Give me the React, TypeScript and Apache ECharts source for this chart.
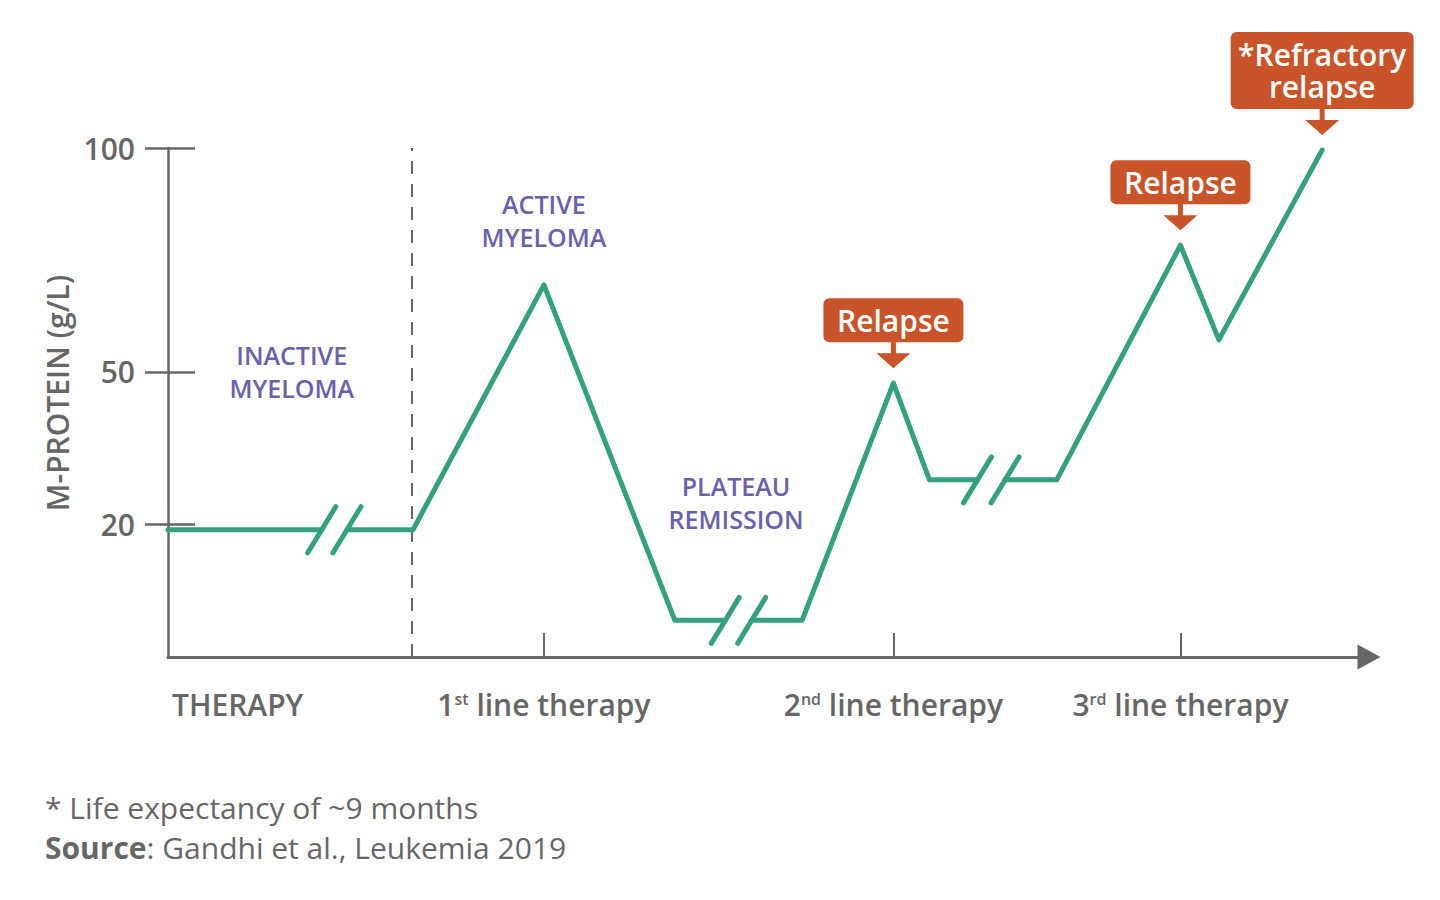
import { useEffect, useRef } from 'react';
import * as echarts from 'echarts';

// ---- data (schematic units: x = time 0..100, y = display height 0..100) ----
const pathX = [0, 12.8, 14.9, 20.4, 31.3, 42.2, 46.4, 48.6, 52.8, 60.4, 63.4, 67.4, 69.7, 74.0, 84.3, 87.5, 96.1];
const pathY = [25, 25, 25, 25, 73.1, 7.2, 7.2, 7.2, 7.2, 53.8, 34.8, 34.8, 34.8, 34.8, 80.9, 62.3, 99.6];
const gapAfter = [1, 6, 11];

const yTickValues = [26.1, 56.0, 100];
const yTickLabels = ['20', '50', '100'];

const xTickValues = [31.3, 60.4, 84.3];
const xLabelValues = [5.8, 31.3, 60.4, 84.3];
const xLabelTexts = [
  '{n|THERAPY}',
  '{n|1}{sup|st}{n| line therapy}',
  '{n|2}{sup|nd}{n| line therapy}',
  '{n|3}{sup|rd}{n| line therapy}',
];

const dividerX = 20.3;

const regionX = [10.3, 31.3, 47.3];
const regionY = [56.0, 85.7, 30.3];
const regionText = ['INACTIVE\nMYELOMA', 'ACTIVE\nMYELOMA', 'PLATEAU\nREMISSION'];

const annoX = [60.4, 84.3, 96.1];
const annoY = [53.8, 80.9, 99.6];
const annoText = ['Relapse', 'Relapse', '*Refractory\nrelapse'];

const footLine1 = '* Life expectancy of ~9 months';
const footLine2Bold = 'Source';
const footLine2Rest = ': Gandhi et al., Leukemia 2019';
const yAxisTitle = 'M-PROTEIN (g/L)';

// ---- styles ----
const TEAL = '#33a07f';
const ORANGE = '#c9542a';
const PURPLE = '#6a60ae';
const GRAY = '#666666';
const FONT = '"Open Sans", "Noto Sans", sans-serif';
const annoBoxW = [140, 140, 183];
const annoBoxH = [44, 44, 77];

export default function App() {
  const ref = useRef<HTMLDivElement>(null);

  useEffect(() => {
    document.body.style.margin = '0';
    const chart = echarts.init(ref.current!, null, { renderer: 'svg' });

    // split path into segments at the axis breaks
    const segments: number[][][] = [];
    let cur: number[][] = [];
    pathX.forEach((x, i) => {
      cur.push([x, pathY[i]]);
      if (gapAfter.includes(i)) {
        segments.push(cur);
        cur = [];
      }
    });
    segments.push(cur);

    const slashPts: number[][] = [];
    gapAfter.forEach((i) => {
      slashPts.push([pathX[i], pathY[i]]);
      slashPts.push([pathX[i + 1], pathY[i + 1]]);
    });

    const lineSeries: any[] = segments.map((seg, k) => ({
      type: 'line',
      data: seg,
      symbol: 'none',
      silent: true,
      lineStyle: { color: TEAL, width: 5, cap: 'round', join: 'round' },
      z: 3,
      markLine:
        k === 0
          ? {
              silent: true,
              symbol: ['none', 'none'],
              label: { show: false },
              lineStyle: { color: GRAY, width: 2, type: [13, 10] },
              data: [{ xAxis: dividerX }],
              z: 1,
            }
          : undefined,
    }));

    const option: any = {
      animation: false,
      backgroundColor: '#ffffff',
      grid: { left: 168, right: 71, top: 148, bottom: 243, containLabel: false, outerBoundsMode: 'none' },
      xAxis: {
        type: 'value',
        min: 0,
        max: 100,
        splitLine: { show: false },
        axisLine: {
          show: true,
          onZero: false,
          symbol: ['none', 'triangle'],
          symbolSize: [25, 23],
          lineStyle: { color: GRAY, width: 3 },
        },
        axisTick: {
          show: true,
          inside: true,
          length: 24,
          customValues: xTickValues,
          lineStyle: { color: GRAY, width: 2 },
        },
        axisLabel: {
          show: true,
          customValues: xLabelValues,
          margin: 29,
          formatter: (v: number) => {
            const i = xLabelValues.indexOf(v);
            return i >= 0 ? xLabelTexts[i] : '';
          },
          rich: {
            n: { fontSize: 30, fontWeight: 600, color: GRAY, fontFamily: FONT, lineHeight: 36, verticalAlign: 'middle' },
            sup: { fontSize: 16, fontWeight: 600, color: GRAY, fontFamily: FONT, verticalAlign: 'middle', padding: [0, 0, 10, 0] },
          },
        },
      },
      yAxis: [
        {
          type: 'value',
          min: 0,
          max: 100,
          position: 'left',
          splitLine: { show: false },
          axisLine: { show: true, onZero: false, lineStyle: { color: GRAY, width: 2.5 } },
          axisTick: {
            show: true,
            inside: false,
            length: 23,
            customValues: yTickValues,
            lineStyle: { color: GRAY, width: 2.5 },
          },
          axisLabel: {
            show: true,
            customValues: yTickValues,
            margin: 33,
            fontSize: 30,
            fontWeight: 600,
            color: GRAY,
            fontFamily: FONT,
            formatter: (v: number) => {
              const i = yTickValues.indexOf(v);
              return i >= 0 ? yTickLabels[i] : '';
            },
          },
        },
        {
          type: 'value',
          min: 0,
          max: 100,
          position: 'left',
          offset: 0,
          splitLine: { show: false },
          axisLine: { show: false },
          axisTick: {
            show: true,
            inside: true,
            length: 27,
            customValues: yTickValues,
            lineStyle: { color: GRAY, width: 2.5 },
          },
          axisLabel: { show: false },
        },
      ],
      series: [
        ...lineSeries,
        {
          type: 'custom',
          silent: true,
          z: 4,
          data: slashPts,
          renderItem: (_p: any, api: any) => {
            const c = api.coord([api.value(0), api.value(1)]);
            return {
              type: 'line',
              shape: { x1: c[0] - 14, y1: c[1] + 23, x2: c[0] + 14, y2: c[1] - 23 },
              style: { stroke: TEAL, lineWidth: 5, lineCap: 'round' },
            };
          },
        },
        {
          type: 'custom',
          silent: true,
          z: 5,
          data: regionX.map((x, i) => [x, regionY[i], i]),
          renderItem: (_p: any, api: any) => {
            const i = api.value(2);
            const c = api.coord([api.value(0), api.value(1)]);
            return {
              type: 'text',
              x: c[0],
              y: c[1],
              style: {
                text: regionText[i],
                align: 'center',
                verticalAlign: 'middle',
                fill: PURPLE,
                fontSize: 25,
                fontWeight: 600,
                fontFamily: FONT,
                lineHeight: 33,
              },
            };
          },
        },
        {
          type: 'custom',
          silent: true,
          z: 6,
          data: annoX.map((x, i) => [x, annoY[i], i]),
          renderItem: (_p: any, api: any) => {
            const i = api.value(2);
            const c = api.coord([api.value(0), api.value(1)]);
            const tipY = c[1] - 15;
            const triTop = tipY - 15;
            const boxBottom = triTop - 11;
            const w = annoBoxW[i];
            const h = annoBoxH[i];
            return {
              type: 'group',
              children: [
                {
                  type: 'rect',
                  shape: { x: c[0] - w / 2, y: boxBottom - h, width: w, height: h, r: 6 },
                  style: { fill: ORANGE },
                },
                {
                  type: 'rect',
                  shape: { x: c[0] - 2.5, y: boxBottom - 1, width: 5, height: 13 },
                  style: { fill: ORANGE },
                },
                {
                  type: 'polygon',
                  shape: { points: [[c[0] - 17, triTop], [c[0] + 17, triTop], [c[0], tipY]] },
                  style: { fill: ORANGE },
                },
                {
                  type: 'text',
                  x: c[0],
                  y: boxBottom - h / 2,
                  style: {
                    text: annoText[i],
                    align: 'center',
                    verticalAlign: 'middle',
                    fill: '#ffffff',
                    fontSize: 30,
                    fontWeight: 600,
                    fontFamily: FONT,
                    lineHeight: 32,
                  },
                },
              ],
            };
          },
        },
      ],
      graphic: [
        {
          type: 'text',
          x: 57,
          y: 393,
          rotation: Math.PI / 2,
          style: {
            text: yAxisTitle,
            align: 'center',
            verticalAlign: 'middle',
            fill: GRAY,
            fontSize: 30,
            fontWeight: 600,
            fontFamily: FONT,
          },
        },
        {
          type: 'text',
          x: 45,
          y: 807,
          style: {
            text: footLine1,
            align: 'left',
            verticalAlign: 'middle',
            fill: GRAY,
            fontSize: 30,
            fontFamily: FONT,
          },
        },
        {
          type: 'text',
          x: 45,
          y: 847,
          style: {
            text: `{b|${footLine2Bold}}{r|${footLine2Rest}}`,
            align: 'left',
            verticalAlign: 'middle',
            fill: GRAY,
            fontSize: 30,
            fontFamily: FONT,
            rich: {
              b: { fontSize: 30, fontWeight: 700, fill: GRAY, fontFamily: FONT },
              r: { fontSize: 30, fontWeight: 400, fill: GRAY, fontFamily: FONT },
            },
          },
        },
      ],
    };

    chart.setOption(option);
    return () => chart.dispose();
  }, []);

  return (
    <div
      ref={ref}
      style={{ position: 'fixed', left: 0, top: 0, width: 1440, height: 900, background: '#fff' }}
    />
  );
}
